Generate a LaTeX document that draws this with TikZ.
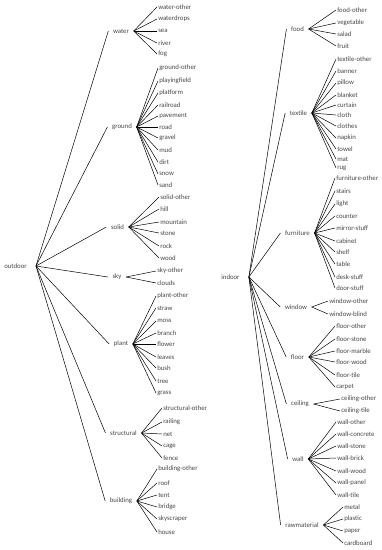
\documentclass[tikz,border=0pt]{standalone}
\usepackage{fontspec}
\setmainfont{Carlito}
\usetikzlibrary{positioning}
\tikzset{
    rootnode/.style={inner xsep=9pt, inner ysep=1pt},
    catnode/.style={inner xsep=4.5pt, inner ysep=1pt},
    leafnode/.style={anchor=west, inner xsep=1pt, inner ysep=1pt}
}

\begin{document}
\begin{tikzpicture}[x=1pt, y=-1pt, font=\fontsize{6.8}{8}\selectfont, text=black!72, line width=0.5pt]
    \useasboundingbox (0,0) rectangle (382,550);

    % Roots
    \node[rootnode] (outdoor) at (15.5,266) {outdoor};
    \node[rootnode] (indoor) at (230.5,277) {indoor};

    % Outdoor categories
    \foreach \c/\x/\y in {water/121/31, ground/122/127, solid/117.5/227, sky/117/277,
                          plant/121/344, structural/123.5/433, building/121/501} {
        \node[catnode] (\c) at (\x,\y) {\c};
        \draw (outdoor.east) -- (\c.west);
    }

    % Indoor categories
    \foreach \c/\x/\y in {food/297.5/29, textile/298.5/113, furniture/297.5/233, window/296/307,
                          floor/297.5/357, ceiling/300/404, wall/298/459, rawmaterial/302/525} {
        \node[catnode] (\c) at (\x,\y) {\c};
        \draw (indoor.east) -- (\c.west);
    }

    % Water
    \foreach \l/\y in {water-other/7, waterdrops/19, sea/31, river/43, fog/54} {
        \node[leafnode] (\l) at (157,\y) {\l};
        \draw (water.east) -- (\l.west);
    }

    % Ground
    \foreach \l/\y in {ground-other/68, playingfield/81, platform/93, railroad/105, pavement/116,
                       road/127, gravel/138, mud/150, dirt/162, snow/174, sand/185} {
        \node[leafnode] (\l) at (158,\y) {\l};
        \draw (ground.east) -- (\l.west);
    }

    % Solid
    \foreach \l/\y in {solid-other/197, hill/209, mountain/222, stone/233, rock/246, wood/258} {
        \node[leafnode] (\l) at (159,\y) {\l};
        \draw (solid.east) -- (\l.west);
    }

    % Sky
    \foreach \l/\y in {sky-other/271, clouds/283} {
        \node[leafnode] (\l) at (156,\y) {\l};
        \draw (sky.east) -- (\l.west);
    }

    % Plant
    \foreach \l/\y in {plant-other/296, straw/308, moss/321, branch/333, flower/344,
                       leaves/357, bush/368, tree/381, grass/393} {
        \node[leafnode] (\l) at (156,\y) {\l};
        \draw (plant.east) -- (\l.west);
    }

    % Structural
    \foreach \l/\y in {structural-other/408, railing/422, net/434, cage/446, fence/458} {
        \node[leafnode] (\l) at (162,\y) {\l};
        \draw (structural.east) -- (\l.west);
    }

    % Building
    \foreach \l/\y in {building-other/469, roof/483, tent/495, bridge/507, skyscraper/519, house/532} {
        \node[leafnode] (\l) at (157,\y) {\l};
        \draw (building.east) -- (\l.west);
    }

    % Food
    \foreach \l/\y in {food-other/10, vegetable/23, salad/34, fruit/46} {
        \node[leafnode] (\l) at (336,\y) {\l};
        \draw (food.east) -- (\l.west);
    }

    % Textile
    \foreach \l/\y in {textile-other/59, banner/71, pillow/83, blanket/95, curtain/105, cloth/115,
                       clothes/126, napkin/138, towel/149, mat/159, rug/168} {
        \node[leafnode] (\l) at (336,\y) {\l};
        \draw (textile.east) -- (\l.west);
    }

    % Furniture
    \foreach \l/\y in {furniture-other/178, stairs/191, light/204, counter/216, mirror-stuff/228,
                       cabinet/241, shelf/252, table/264, desk-stuff/277, door-stuff/288} {
        \node[leafnode] (\l) at (335,\y) {\l};
        \draw (furniture.east) -- (\l.west);
    }

    % Window
    \foreach \l/\y in {window-other/301, window-blind/314} {
        \node[leafnode] (\l) at (328,\y) {\l};
        \draw (window.east) -- (\l.west);
    }

    % Floor
    \foreach \l/\y in {floor-other/326, floor-stone/339, floor-marble/351, floor-wood/362,
                       floor-tile/375, carpet/387} {
        \node[leafnode] (\l) at (335,\y) {\l};
        \draw (floor.east) -- (\l.west);
    }

    % Ceiling
    \foreach \l/\y in {ceiling-other/399, ceiling-tile/411} {
        \node[leafnode] (\l) at (340,\y) {\l};
        \draw (ceiling.east) -- (\l.west);
    }

    % Wall
    \foreach \l/\y in {wall-other/422, wall-concrete/434, wall-stone/446, wall-brick/458,
                       wall-wood/471, wall-panel/483, wall-tile/495} {
        \node[leafnode] (\l) at (336,\y) {\l};
        \draw (wall.east) -- (\l.west);
    }

    % Rawmaterial
    \foreach \l/\y in {metal/507, plastic/519, paper/531, cardboard/543} {
        \node[leafnode] (\l) at (343,\y) {\l};
        \draw (rawmaterial.east) -- (\l.west);
    }
\end{tikzpicture}
\end{document}
